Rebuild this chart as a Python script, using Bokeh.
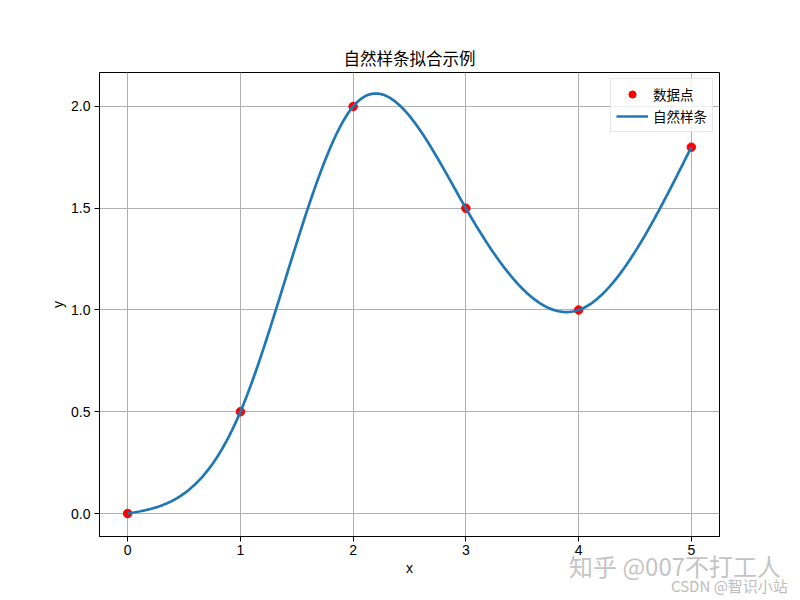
import numpy as np
from bokeh.plotting import figure
from bokeh.models import FixedTicker, Range1d, Legend, LegendItem, NumeralTickFormatter, Div
from bokeh.layouts import column
from bokeh.embed import file_html
from bokeh.resources import INLINE

# data points
x_data = [0, 1, 2, 3, 4, 5]
y_data = [0.0, 0.5, 2.0, 1.5, 1.0, 1.8]
x_ticks = [0, 1, 2, 3, 4, 5]
y_ticks = [0.0, 0.5, 1.0, 1.5, 2.0]
title_text = "自然样条拟合示例"
legend_labels = ["数据点", "自然样条"]
watermark_1 = "知乎 @007不打工人"
watermark_2 = "CSDN @智识小站"

# natural cubic spline through the data points (the fitted curve of the chart)
def natural_spline(xs, ys, xq):
    xs = np.asarray(xs, float); ys = np.asarray(ys, float)
    n = len(xs)
    h = np.diff(xs)
    A = np.zeros((n, n)); b = np.zeros(n)
    A[0, 0] = 1; A[-1, -1] = 1
    for i in range(1, n - 1):
        A[i, i - 1] = h[i - 1]
        A[i, i] = 2 * (h[i - 1] + h[i])
        A[i, i + 1] = h[i]
        b[i] = 6 * ((ys[i + 1] - ys[i]) / h[i] - (ys[i] - ys[i - 1]) / h[i - 1])
    M = np.linalg.solve(A, b)
    out = np.empty_like(xq)
    for k, x in enumerate(xq):
        i = min(max(np.searchsorted(xs, x) - 1, 0), n - 2)
        t1 = xs[i + 1] - x; t0 = x - xs[i]
        out[k] = (M[i] * t1**3 + M[i + 1] * t0**3) / (6 * h[i]) \
            + (ys[i] / h[i] - M[i] * h[i] / 6) * t1 \
            + (ys[i + 1] / h[i] - M[i + 1] * h[i] / 6) * t0
    return out

x_fine = np.linspace(0, 5, 400)
y_fine = natural_spline(x_data, y_data, x_fine)

CJK = "Noto Sans CJK SC"
NUM = "Liberation Sans"

p = figure(width=784, height=584, output_backend="svg", toolbar_location=None,
           x_range=Range1d(-0.25, 5.25), y_range=Range1d(-0.113, 2.167),
           frame_width=620, frame_height=464,
           min_border_left=99, min_border_right=65, min_border_top=72, min_border_bottom=48)

p.title.text = title_text
p.title.align = "center"
p.title.text_font = CJK
p.title.text_font_size = "16.5px"
p.title.text_font_style = "normal"
p.title.text_color = "black"
p.title.offset = 0
p.title.standoff = 5

p.outline_line_color = "black"
p.outline_line_width = 1
p.outline_line_alpha = 1

for ax in (p.xaxis[0], p.yaxis[0]):
    ax.axis_line_color = "black"
    ax.major_tick_line_color = "black"
    ax.major_tick_out = 5
    ax.major_tick_in = 0
    ax.minor_tick_line_color = None
    ax.major_label_text_font = NUM
    ax.major_label_text_font_size = "14px"
    ax.major_label_text_color = "black"
    ax.axis_label_text_font = NUM
    ax.axis_label_text_font_size = "14px"
    ax.axis_label_text_font_style = "normal"
    ax.axis_label_text_color = "black"

p.xaxis.ticker = FixedTicker(ticks=x_ticks)
p.yaxis.ticker = FixedTicker(ticks=y_ticks)
p.yaxis.formatter = NumeralTickFormatter(format="0.0")
p.xaxis.axis_label = "x"
p.yaxis.axis_label = "y"
p.xaxis.major_label_standoff = 3
p.yaxis.major_label_standoff = 4
p.xaxis.axis_label_standoff = 2
p.yaxis.axis_label_standoff = 2

p.xgrid.grid_line_color = "#b0b0b0"
p.ygrid.grid_line_color = "#b0b0b0"
p.xgrid.grid_line_width = 1
p.ygrid.grid_line_width = 1

pts = p.scatter(x_data, y_data, size=8.5, color="red", line_color="red")
ln = p.line(x_fine, y_fine, line_color="#1f77b4", line_width=2.7)

legend = Legend(items=[LegendItem(label=legend_labels[0], renderers=[pts]),
                       LegendItem(label=legend_labels[1], renderers=[ln])],
                location="top_right")
legend.label_text_font = CJK
legend.label_text_font_size = "13.5px"
legend.label_text_color = "black"
legend.border_line_color = "#d0d0d0"
legend.border_line_width = 1
legend.background_fill_alpha = 0.8
legend.margin = 6
legend.padding = 5
legend.spacing = 2
legend.glyph_width = 32
legend.glyph_height = 18
legend.label_height = 18
p.add_layout(legend)

wm = Div(text=(
    f'<div style="position:relative;width:230px;height:44px;">'
    f'<div style="position:absolute;left:0px;top:0px;font-family:\'{CJK}\';font-size:24px;'
    f'color:#c4c4c4;white-space:nowrap;line-height:24px;">{watermark_1}</div>'
    f'<div style="position:absolute;left:102px;top:24px;font-family:\'{CJK}\';font-size:15px;'
    f'color:#bdbdbd;white-space:nowrap;line-height:16px;">{watermark_2}</div></div>'),
    width=230, height=44, margin=(-30, 0, 0, 569))

layout = column(p, wm)
open("out.html", "w").write(file_html(layout, INLINE))
